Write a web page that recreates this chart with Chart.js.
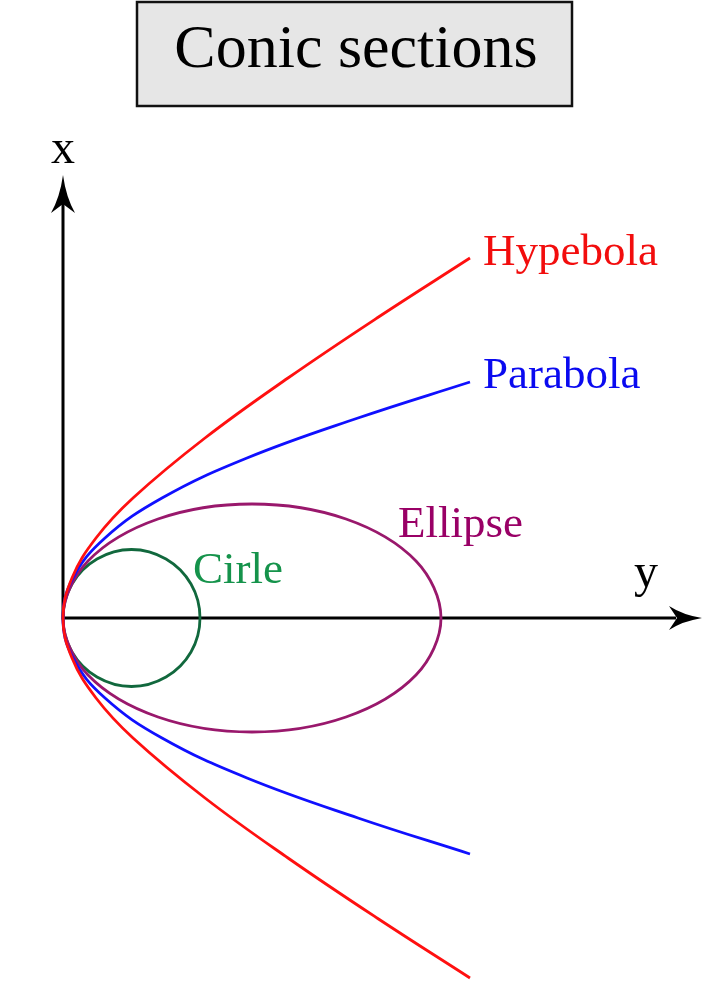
<!DOCTYPE html>
<html>
<head>
<meta charset="utf-8">
<title>Conic sections</title>
<script src="https://cdn.jsdelivr.net/npm/chart.js@4.4.1/dist/chart.umd.min.js"></script>
<style>
  html, body { margin: 0; padding: 0; background: #fff; }
  #wrap { position: relative; width: 705px; height: 1000px; }
</style>
</head>
<body>
<div id="wrap"><canvas id="conicChart"></canvas></div>
<script>
/* The picture labels its horizontal arrow "y" and its vertical arrow "x".
   So every *Y array goes on Chart.js' x scale, every *X array on its y scale. */
const hyperbolaY = [40.7, 31.4, 22.5, 14.2, 7.0, 3.3, 0.9, 0, 0.9, 3.3, 7.0, 14.2, 22.5, 31.4, 40.7];
const hyperbolaX = [36, 30, 24, 18, 12, 8, 4, 0, -4, -8, -12, -18, -24, -30, -36];

const parabolaY = [40.7, 29.5, 18.4, 9.9, 4.2, 1.0, 0, 1.0, 4.2, 9.9, 18.4, 29.5, 40.7];
const parabolaX = [23.6, 20, 16, 12, 8, 4, 0, -4, -8, -12, -16, -20, -23.6];

// closed loops: one extra point at each end so the join is smooth,
// the two outer segments are left undrawn
const ellipseY = [35.3, 37.8, 35.3, 28.3, 18.9, 9.5, 2.5, 0, 2.5, 9.5, 18.9, 28.3, 35.3, 37.8, 35.3];
const ellipseX = [-5.7, 0, 5.7, 9.9, 11.4, 9.9, 5.7, 0, -5.7, -9.9, -11.4, -9.9, -5.7, 0, 5.7];

const circleY = [12.8, 13.7, 12.8, 10.3, 6.85, 3.4, 0.9, 0, 0.9, 3.4, 6.85, 10.3, 12.8, 13.7, 12.8];
const circleX = [-3.4, 0, 3.4, 5.9, 6.85, 5.9, 3.4, 0, -3.4, -5.9, -6.85, -5.9, -3.4, 0, 3.4];

const axisEnds = { y: 63.9, x: 44.3 };

const curveLabels = [
  { text: 'Hypebola', at: [42.0, 35.3], color: '#f20d0d' },
  { text: 'Parabola', at: [42.0, 23.0], color: '#0a0af0' },
  { text: 'Ellipse',  at: [33.5, 8.1],  color: '#990066' },
  { text: 'Cirle',    at: [13.0, 3.5],  color: '#15934b' },
];

const SERIF = '"Liberation Serif", "DejaVu Serif", serif';

function pts(ys, xs) {
  return ys.map((v, i) => ({ x: v, y: xs[i] }));
}

function curve(label, ys, xs, color, tension, closed) {
  const last = ys.length - 1;
  const ds = {
    label,
    data: pts(ys, xs),
    showLine: true,
    borderColor: color,
    borderWidth: 2.8,
    pointRadius: 0,
    tension,
    fill: false,
    clip: false,
  };
  if (closed) {
    ds.segment = {
      borderColor: c => (c.p0DataIndex === 0 || c.p1DataIndex === last) ? 'rgba(0,0,0,0)' : undefined
    };
  }
  return ds;
}

/* ── Axes with arrow heads ── */
const axesPlugin = {
  id: 'axes',
  beforeDatasetsDraw(chart) {
    const { ctx, scales: { x, y } } = chart;
    const ox = x.getPixelForValue(0), oy = y.getPixelForValue(0);
    const tipX = x.getPixelForValue(axisEnds.y);
    const tipY = y.getPixelForValue(axisEnds.x);
    ctx.save();
    ctx.strokeStyle = '#000';
    ctx.fillStyle = '#000';
    ctx.lineWidth = 3;
    ctx.beginPath();
    ctx.moveTo(ox, oy);
    ctx.lineTo(tipX - 26, oy);
    ctx.moveTo(ox, oy + 1.5);
    ctx.lineTo(ox, tipY + 28);
    ctx.stroke();

    // vertical head
    ctx.beginPath();
    ctx.moveTo(ox, tipY);
    ctx.quadraticCurveTo(ox - 3, tipY + 22, ox - 12, tipY + 38);
    ctx.lineTo(ox, tipY + 29);
    ctx.lineTo(ox + 12, tipY + 38);
    ctx.quadraticCurveTo(ox + 3, tipY + 22, ox, tipY);
    ctx.fill();

    // horizontal head
    ctx.beginPath();
    ctx.moveTo(tipX, oy);
    ctx.quadraticCurveTo(tipX - 19, oy - 3, tipX - 33, oy - 12);
    ctx.lineTo(tipX - 25, oy);
    ctx.lineTo(tipX - 33, oy + 12);
    ctx.quadraticCurveTo(tipX - 19, oy + 3, tipX, oy);
    ctx.fill();
    ctx.restore();
  }
};

/* ── Title box + text labels ── */
const textPlugin = {
  id: 'texts',
  afterDraw(chart) {
    const { ctx, scales: { x, y } } = chart;
    ctx.save();

    // title box
    ctx.fillStyle = '#e6e6e6';
    ctx.fillRect(137, 2, 435, 104);
    ctx.strokeStyle = '#111';
    ctx.lineWidth = 2.5;
    ctx.strokeRect(137, 2, 435, 104);
    ctx.fillStyle = '#000';
    ctx.font = '62px ' + SERIF;
    ctx.textAlign = 'center';
    ctx.textBaseline = 'alphabetic';
    ctx.fillText('Conic sections', 356, 67);

    // axis names
    ctx.font = '48px ' + SERIF;
    ctx.fillText('x', x.getPixelForValue(0), y.getPixelForValue(45.5));
    ctx.fillText('y', x.getPixelForValue(58.3), y.getPixelForValue(3.1));

    // curve names
    ctx.textAlign = 'left';
    ctx.font = '45px ' + SERIF;
    curveLabels.forEach(l => {
      ctx.fillStyle = l.color;
      ctx.fillText(l.text, x.getPixelForValue(l.at[0]), y.getPixelForValue(l.at[1]));
    });
    ctx.restore();
  }
};

new Chart(document.getElementById('conicChart'), {
  type: 'scatter',
  data: {
    datasets: [
      curve('Hyperbola', hyperbolaY, hyperbolaX, '#ff1010', 0.4, false),
      curve('Parabola', parabolaY, parabolaX, '#1010ff', 0.4, false),
      curve('Ellipse', ellipseY, ellipseX, '#99186c', 0.35, true),
      curve('Circle', circleY, circleX, '#11683d', 0.35, true),
    ]
  },
  options: {
    responsive: true,
    maintainAspectRatio: false,
    animation: false,
    devicePixelRatio: 1,
    // x starts a little left of the origin so spline handles are never clamped
    layout: { padding: { left: 43, right: 2, top: 178, bottom: 2 } },
    plugins: {
      legend: { display: false },
      tooltip: { enabled: false },
      title: { display: false },
    },
    scales: {
      x: { type: 'linear', min: -2, max: 64, display: false },
      y: { type: 'linear', min: -38, max: 44, display: false },
    }
  },
  plugins: [axesPlugin, textPlugin]
});
</script>
</body>
</html>
